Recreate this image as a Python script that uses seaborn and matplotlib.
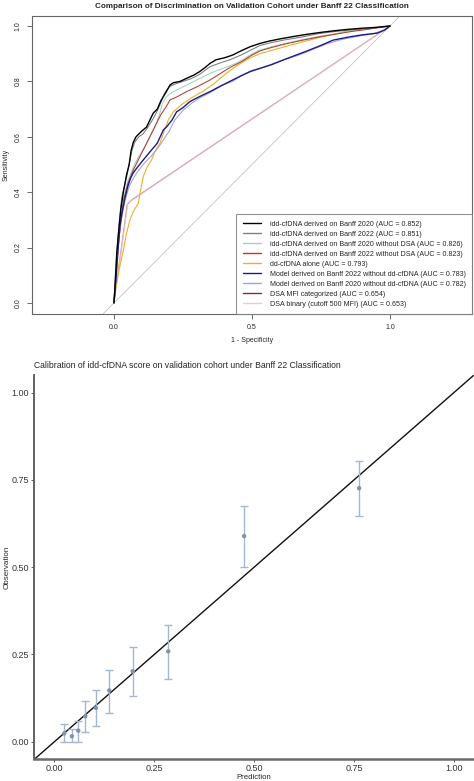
import numpy as np
import pandas as pd
import matplotlib
matplotlib.use('Agg')
import matplotlib.pyplot as plt
import seaborn as sns

# ROC curves (1 - specificity, sensitivity)
fpr_2020 = [0, 0.005, 0.01, 0.018, 0.025, 0.034, 0.045, 0.055, 0.062, 0.07, 0.08, 0.09, 0.1, 0.118, 0.13, 0.142,
            0.157, 0.17, 0.179, 0.191, 0.203, 0.215, 0.24, 0.263, 0.29, 0.31, 0.33, 0.348, 0.37, 0.4, 0.43, 0.46,
            0.493, 0.529, 0.56, 0.6, 0.65, 0.7, 0.75, 0.8, 0.85, 0.9, 0.95, 1.0]
tpr_2020 = [0, 0.08, 0.18, 0.27, 0.34, 0.4, 0.46, 0.5, 0.55, 0.58, 0.6, 0.61, 0.62, 0.635, 0.66, 0.685,
            0.7, 0.73, 0.745, 0.765, 0.787, 0.795, 0.8, 0.811, 0.823, 0.835, 0.85, 0.865, 0.878, 0.885, 0.895, 0.91,
            0.925, 0.937, 0.945, 0.953, 0.962, 0.97, 0.977, 0.983, 0.988, 0.992, 0.995, 1.0]

fpr_2022 = [0, 0.005, 0.012, 0.02, 0.028, 0.035, 0.045, 0.055, 0.065, 0.075, 0.09, 0.105, 0.12, 0.142, 0.16, 0.17,
            0.185, 0.2, 0.22, 0.25, 0.28, 0.31, 0.33, 0.348, 0.38, 0.42, 0.46, 0.5, 0.53, 0.57, 0.62, 0.68, 0.74,
            0.8, 0.86, 0.92, 0.96, 1.0]
tpr_2022 = [0, 0.1, 0.2, 0.3, 0.38, 0.41, 0.45, 0.5, 0.55, 0.58, 0.6, 0.61, 0.63, 0.665, 0.7, 0.725,
            0.76, 0.78, 0.79, 0.8, 0.81, 0.825, 0.84, 0.853, 0.865, 0.878, 0.895, 0.915, 0.93, 0.94, 0.95, 0.96, 0.972,
            0.98, 0.986, 0.99, 0.995, 1.0]

fpr_2020_nodsa = [0, 0.008, 0.015, 0.025, 0.035, 0.05, 0.07, 0.09, 0.11, 0.13, 0.15, 0.165, 0.175, 0.19, 0.21, 0.23,
                  0.26, 0.29, 0.32, 0.35, 0.39, 0.43, 0.47, 0.5, 0.529, 0.57, 0.62, 0.68, 0.74, 0.8, 0.86, 0.92, 0.96, 1.0]
tpr_2020_nodsa = [0, 0.12, 0.22, 0.31, 0.38, 0.44, 0.49, 0.53, 0.56, 0.6, 0.64, 0.68, 0.72, 0.745, 0.76, 0.77,
                  0.785, 0.8, 0.815, 0.83, 0.845, 0.86, 0.88, 0.9, 0.913, 0.925, 0.937, 0.95, 0.962, 0.972, 0.982, 0.99, 0.995, 1.0]

fpr_2022_nodsa = [0, 0.008, 0.015, 0.025, 0.035, 0.05, 0.07, 0.09, 0.11, 0.13, 0.15, 0.17, 0.19, 0.203, 0.23, 0.263,
                  0.3, 0.348, 0.38, 0.42, 0.46, 0.5, 0.529, 0.57, 0.62, 0.68, 0.74, 0.8, 0.86, 0.92, 0.96, 1.0]
tpr_2022_nodsa = [0, 0.1, 0.2, 0.3, 0.37, 0.43, 0.48, 0.52, 0.56, 0.6, 0.64, 0.68, 0.71, 0.733, 0.745, 0.763,
                  0.78, 0.805, 0.825, 0.85, 0.87, 0.895, 0.91, 0.922, 0.935, 0.948, 0.96, 0.97, 0.98, 0.988, 0.994, 1.0]

fpr_ddcf = [0, 0.004, 0.015, 0.025, 0.034, 0.045, 0.058, 0.07, 0.088, 0.095, 0.106, 0.12, 0.136, 0.15, 0.167, 0.179,
            0.197, 0.215, 0.251, 0.28, 0.324, 0.36, 0.408, 0.45, 0.493, 0.529, 0.6, 0.674, 0.75, 0.82, 0.855, 0.9, 1.0]
tpr_ddcf = [0, 0.047, 0.1, 0.15, 0.19, 0.25, 0.3, 0.33, 0.36, 0.4, 0.456, 0.49, 0.516, 0.55, 0.577, 0.613,
            0.661, 0.69, 0.721, 0.74, 0.765, 0.79, 0.83, 0.86, 0.885, 0.9, 0.92, 0.94, 0.96, 0.975, 0.985, 0.99, 1.0]

fpr_m2022 = [0, 0.008, 0.015, 0.022, 0.03, 0.04, 0.05, 0.06, 0.07, 0.085, 0.106, 0.13, 0.157, 0.179, 0.191, 0.21,
             0.227, 0.25, 0.275, 0.31, 0.348, 0.39, 0.43, 0.46, 0.493, 0.529, 0.57, 0.613, 0.66, 0.7, 0.75, 0.794,
             0.85, 0.9, 0.952, 0.98, 1.0]
tpr_m2022 = [0, 0.1, 0.2, 0.28, 0.33, 0.38, 0.42, 0.45, 0.47, 0.49, 0.516, 0.545, 0.577, 0.625, 0.636, 0.66,
             0.69, 0.705, 0.727, 0.745, 0.763, 0.785, 0.805, 0.82, 0.835, 0.847, 0.86, 0.877, 0.895, 0.91, 0.93, 0.949,
             0.96, 0.968, 0.974, 0.985, 1.0]

fpr_m2020 = [0, 0.01, 0.02, 0.03, 0.04, 0.055, 0.07, 0.09, 0.11, 0.135, 0.16, 0.18, 0.2, 0.22, 0.25, 0.28, 0.31,
             0.35, 0.39, 0.43, 0.47, 0.5, 0.54, 0.58, 0.62, 0.67, 0.72, 0.77, 0.82, 0.88, 0.94, 0.98, 1.0]
tpr_m2020 = [0, 0.12, 0.25, 0.32, 0.37, 0.42, 0.45, 0.48, 0.505, 0.53, 0.56, 0.59, 0.62, 0.66, 0.695, 0.72, 0.74,
             0.76, 0.785, 0.8, 0.825, 0.84, 0.85, 0.865, 0.88, 0.895, 0.915, 0.935, 0.95, 0.962, 0.972, 0.985, 1.0]

fpr_mfi = [0, 0.048, 0.062, 1.0]
tpr_mfi = [0, 0.355, 0.37, 1.0]
fpr_bin = [0, 0.05, 1.0]
tpr_bin = [0, 0.36, 1.0]

roc_labels = ['idd-cfDNA derived on Banff 2020 (AUC = 0.852)',
              'idd-cfDNA derived on Banff 2022 (AUC = 0.851)',
              'idd-cfDNA derived on Banff 2020 without DSA (AUC = 0.826)',
              'idd-cfDNA derived on Banff 2022 without DSA (AUC = 0.823)',
              'dd-cfDNA alone (AUC = 0.793)',
              'Model derived on Banff 2022 without dd-cfDNA (AUC = 0.783)',
              'Model derived on Banff 2020 without dd-cfDNA (AUC = 0.782)',
              'DSA MFI categorized (AUC = 0.654)',
              'DSA binary (cutoff 500 MFI) (AUC = 0.653)']
roc_colors = ['#000000', '#808080', '#99d6c0', '#b8382f', '#e8b22a',
              '#1c1c88', '#a0a0e0', '#8a2a38', '#f2c6cf']
roc_widths = [1.0, 0.8, 0.75, 0.75, 0.8, 1.0, 0.75, 0.8, 0.8]
roc_alpha = [1, 1, 1, 1, 1, 1, 1, 0.6, 0.8]

# calibration points
cal_pred = [0.025, 0.044, 0.06, 0.0775, 0.104, 0.1375, 0.196, 0.285, 0.475, 0.7625]
cal_obs = [0.024, 0.016, 0.032, 0.073, 0.097, 0.147, 0.202, 0.259, 0.589, 0.726]
cal_low = [0.0, 0.0, 0.0, 0.028, 0.045, 0.083, 0.131, 0.181, 0.50, 0.647]
cal_high = [0.051, 0.037, 0.061, 0.118, 0.149, 0.207, 0.271, 0.334, 0.675, 0.804]

sns.set_style('white')
plt.rcParams['font.family'] = ['Liberation Sans', 'DejaVu Sans']

fig = plt.figure(figsize=(4.74, 7.81), dpi=100)

# ---- ROC panel ----
ax1 = fig.add_axes([0.0675, 0.598, 0.9283, 0.3815])
ax1.axline((0, 0), (1, 1), color='#c4c4c4', lw=0.6, zorder=1)

curves = [(fpr_2020, tpr_2020), (fpr_2022, tpr_2022), (fpr_2020_nodsa, tpr_2020_nodsa),
          (fpr_2022_nodsa, tpr_2022_nodsa), (fpr_ddcf, tpr_ddcf), (fpr_m2022, tpr_m2022),
          (fpr_m2020, tpr_m2020), (fpr_mfi, tpr_mfi), (fpr_bin, tpr_bin)]
z_order = [8, 7, 4, 5, 3, 6, 5, 2, 2.5]
for (fx, ty), lab, col, lw, z, a in zip(curves, roc_labels, roc_colors, roc_widths, z_order, roc_alpha):
    df = pd.DataFrame({'fpr': fx, 'tpr': ty})
    sns.lineplot(data=df, x='fpr', y='tpr', sort=False, estimator=None, color=col, lw=lw,
                 label=lab, ax=ax1, zorder=z, alpha=a)

ax1.set_xlim(-0.297, 1.297)
ax1.set_ylim(-0.04, 1.036)
ax1.set_xticks([0, 0.5, 1.0])
ax1.set_xticklabels(['0.0', '0.5', '1.0'])
ax1.set_yticks([0, 0.2, 0.4, 0.6, 0.8, 1.0])
ax1.set_yticklabels(['0.0', '0.2', '0.4', '0.6', '0.8', '1.0'], rotation=90, va='center')
ax1.tick_params(axis='both', labelsize=5, length=3.5, width=0.6, color='#555555', pad=4,
                bottom=True, left=True, direction='out')
for s in ax1.spines.values():
    s.set_color('#666666')
    s.set_linewidth(0.8)
ax1.set_xlabel('1 - Specificity', fontsize=5, va='center')
ax1.set_ylabel('Sensitivity', fontsize=5, va='center')
ax1.xaxis.set_label_coords(0.5, -0.09)
ax1.yaxis.set_label_coords(-0.059, 0.5)
leg = ax1.legend(loc='lower right', bbox_to_anchor=(1.0, 0.0), borderaxespad=0, fontsize=5.1,
                 fancybox=False, frameon=True, edgecolor='#777777', handlelength=2.6,
                 labelspacing=0.42, borderpad=0.9, handletextpad=1.2)
leg.get_frame().set_linewidth(0.8)
for h in leg.get_lines():
    h.set_linewidth(1.0)
    h.set_alpha(1)
fig.text(252 / 474, 1 - 7 / 781, 'Comparison of Discrimination on Validation Cohort under Banff 22 Classification',
         ha='center', va='center', fontsize=5.9, fontweight='bold')

# ---- calibration panel ----
ax2 = fig.add_axes([0.0724, 0.0278, 0.9276, 0.492])
ax2.axline((0, 0), (1, 1), color='#111111', lw=1.0, zorder=2)
err_low = np.array(cal_obs) - np.array(cal_low)
err_high = np.array(cal_high) - np.array(cal_obs)
ax2.errorbar(cal_pred, cal_obs, yerr=[err_low, err_high], fmt='none', ecolor='#a3b8d0',
             elinewidth=1.0, capsize=3.2, capthick=1.0, zorder=3)
cal_df = pd.DataFrame({'pred': cal_pred, 'obs': cal_obs})
sns.scatterplot(data=cal_df, x='pred', y='obs', color='#8193ad', s=10, edgecolor='none', ax=ax2, zorder=4)
ax2.set_xlim(-0.05, 1.05)
ax2.set_ylim(-0.05, 1.05)
ticks = [0, 0.25, 0.5, 0.75, 1.0]
ax2.set_xticks(ticks)
ax2.set_yticks(ticks)
ax2.set_xticklabels(['0.00', '0.25', '0.50', '0.75', '1.00'])
ax2.set_yticklabels(['0.00', '0.25', '0.50', '0.75', '1.00'])
ax2.tick_params(axis='both', labelsize=6.5, length=2.5, width=0.6, color='#444444',
                labelcolor='#333333', pad=1.5, bottom=True, left=True, direction='out')
ax2.tick_params(axis='x', pad=0.8)
sns.despine(ax=ax2)
ax2.spines['left'].set_color('#555555')
ax2.spines['left'].set_linewidth(1.3)
ax2.spines['bottom'].set_color('#6a6a6a')
ax2.spines['bottom'].set_linewidth(1.8)
ax2.set_xlabel('Prediction', fontsize=5.6, va='center')
ax2.set_ylabel('Observation', fontsize=5.8, va='center')
ax2.xaxis.set_label_coords(0.5, -0.0465)
ax2.yaxis.set_label_coords(-0.062, 0.5)
fig.text(34 / 474, 1 - 366 / 781,
         'Calibration of idd-cfDNA score on validation cohort under Banff 22 Classification',
         ha='left', va='center', fontsize=6.2)

fig.savefig('out.png', dpi=100)
